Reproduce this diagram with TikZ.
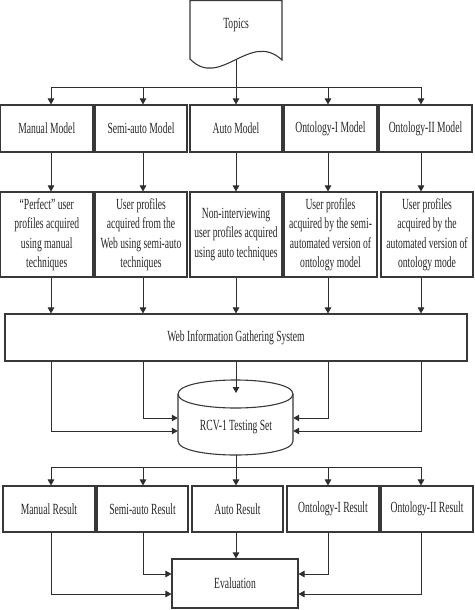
\documentclass[tikz,border=0pt]{standalone}
\usepackage{fontspec}
\setmainfont[FakeStretch=0.62]{Liberation Serif}
\usetikzlibrary{arrows.meta}
\definecolor{lc}{gray}{0.18}
\definecolor{bc}{gray}{0.22}
\definecolor{tc}{gray}{0.15}
\begin{document}
\begin{tikzpicture}[x=1pt,y=-1pt,
  ln/.style={draw=lc, line width=1pt},
  arr/.style={ln, -{Triangle[length=6pt,width=6.5pt]}},
  box/.style={draw=bc, line width=1.1pt, inner sep=0pt, align=center, text=tc,
    font=\fontsize{15.5}{19.5}\selectfont},
  txt/.style={inner sep=0pt, align=center, text=tc, font=\fontsize{15.5}{19.5}\selectfont},
  shapeline/.style={draw=bc, line width=1.1pt}]
\useasboundingbox (0,0) rectangle (474,610);

% column positions
\coordinate (c1) at (51,0);
\coordinate (c2) at (143,0);
\coordinate (c3) at (236,0);
\coordinate (c4) at (328,0);
\coordinate (c5) at (421,0);
\coordinate (yT) at (0,87);
\coordinate (yA) at (0,418);
\coordinate (yB) at (0,431);
\coordinate (yR) at (0,467);
\coordinate (yE1) at (0,574);
\coordinate (yE2) at (0,594);

% Topics document
\draw[shapeline] (190,0.5) -- (282,0.5) -- (282,60)
  .. controls (250,30) and (220,90) .. (190,59) -- cycle;
\node[txt] (topics) at (236,25) {Topics};
\coordinate (tp) at (236,60);

% model boxes
\node[box, minimum width=92.5pt, minimum height=47pt] (m1) at (46.75,128.5) {Manual Model};
\node[box, minimum width=92pt, minimum height=47pt] (m2) at (141,128.5) {Semi-auto Model};
\node[box, minimum width=92pt, minimum height=47pt] (m3) at (236,128.5) {Auto Model};
\node[box, minimum width=93pt, minimum height=47pt] (m4) at (330.5,128.5) {Ontology-I Model};
\node[box, minimum width=93pt, minimum height=47pt] (m5) at (425.5,128.5) {Ontology-II Model};

% description boxes
\node[box, minimum width=92.5pt, minimum height=85pt] (d1) at (46.75,234.5)
  {“Perfect” user\\profiles acquired\\using manual\\techniques};
\node[box, minimum width=92pt, minimum height=85pt] (d2) at (141,234.5)
  {User profiles\\acquired from the\\Web using semi-auto\\techniques};
\node[box, minimum width=92pt, minimum height=85pt] (d3) at (236,234.5)
  {Non-interviewing\\user profiles acquired\\using auto techniques};
\node[box, minimum width=93pt, minimum height=85pt] (d4) at (330.5,234.5)
  {User profiles\\acquired by the semi-\\automated version of\\ontology model};
\node[box, minimum width=92pt, minimum height=85pt] (d5) at (427,234.5)
  {User profiles\\acquired by the\\automated version of\\ontology mode};

% web box
\node[box, minimum width=462pt, minimum height=47pt] (web) at (236,337.5)
  {Web Information Gathering System};

% cylinder
\node[inner sep=0pt, minimum width=115pt, minimum height=75pt] (rcv) at (235.5,417.5) {};
\draw[shapeline] (178,394) .. controls (178,375.33) and (293,375.33) .. (293,394)
  .. controls (293,412.67) and (178,412.67) .. (178,394);
\draw[shapeline] (178,394) -- (178,441) .. controls (178,459.67) and (293,459.67) .. (293,441) -- (293,394);
\node[txt] (rcvt) at (236,427) {RCV-1 Testing Set};
\coordinate (rcvtop) at (236,393);

% result boxes
\node[box, minimum width=92pt, minimum height=46pt] (r1) at (49,509) {Manual Result};
\node[box, minimum width=91pt, minimum height=46pt] (r2) at (142.5,509) {Semi-auto Result};
\node[box, minimum width=91pt, minimum height=46pt] (r3) at (237.5,509) {Auto Result};
\node[box, minimum width=92pt, minimum height=46pt] (r4) at (333,509) {Ontology-I Result};
\node[box, minimum width=92pt, minimum height=46pt] (r5) at (427,509) {Ontology-II Result};

% evaluation
\node[box, minimum width=126pt, minimum height=49pt] (ev) at (235,583.5) {Evaluation};

% connectors: topics to models
\draw[ln] (tp) -- (c3 |- yT);
\draw[ln] (c1 |- yT) -- (c5 |- yT);
\foreach \i in {1,...,5}{
  \draw[arr] (c\i |- yT) -- (c\i |- m\i.north);
  \draw[arr] (c\i |- m\i.south) -- (c\i |- d\i.north);
  \draw[arr] (c\i |- d\i.south) -- (c\i |- web.north);
}

% web to cylinder
\draw[arr] (c3 |- web.south) -- (rcvtop);
\draw[arr] (c2 |- web.south) |- (rcv.west |- yA);
\draw[arr] (c1 |- web.south) |- (rcv.west |- yB);
\draw[arr] (c4 |- web.south) |- (rcv.east |- yA);
\draw[arr] (c5 |- web.south) |- (rcv.east |- yB);

% cylinder to results
\draw[ln] (c3 |- rcv.south) -- (c3 |- yR);
\draw[ln] (c1 |- yR) -- (c5 |- yR);
\foreach \i in {1,...,5}{
  \draw[arr] (c\i |- yR) -- (c\i |- r\i.north);
}

% results to evaluation
\draw[arr] (c3 |- r3.south) -- (c3 |- ev.north);
\draw[arr] (c2 |- r2.south) |- (ev.west |- yE1);
\draw[arr] (c1 |- r1.south) |- (ev.west |- yE2);
\draw[arr] (c4 |- r4.south) |- (ev.east |- yE1);
\draw[arr] (c5 |- r5.south) |- (ev.east |- yE2);
\end{tikzpicture}
\end{document}
